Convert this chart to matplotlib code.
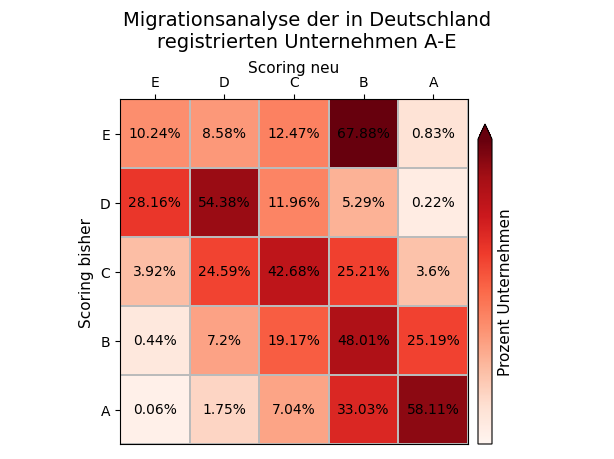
import matplotlib
matplotlib.use("Agg")
import matplotlib.pyplot as plt
import matplotlib.colors as mcolors
import numpy as np

ratings = ["E", "D", "C", "B", "A"]
# rows: Scoring bisher (E..A from top), columns: Scoring neu (E..A)
werte = np.array([
    [10.24, 8.58, 12.47, 67.88, 0.83],
    [28.16, 54.38, 11.96, 5.29, 0.22],
    [3.92, 24.59, 42.68, 25.21, 3.6],
    [0.44, 7.2, 19.17, 48.01, 25.19],
    [0.06, 1.75, 7.04, 33.03, 58.11],
])

fig = plt.figure(figsize=(6.14, 4.6), dpi=100)
ax = fig.add_axes([120 / 614, 15 / 460, 348 / 614, 345 / 460])
cax = fig.add_axes([478 / 614, 15 / 460, 14 / 614, 320 / 460])

norm = mcolors.PowerNorm(gamma=0.5, vmin=0, vmax=werte.max())
mesh = ax.pcolormesh(werte, cmap="Reds", norm=norm, edgecolors="#bbbbbb", linewidth=0.3)
ax.set_xlim(0, 5)
ax.set_ylim(5, 0)

for i in range(5):
    for j in range(5):
        ax.text(j + 0.5, i + 0.5, f"{werte[i, j]:g}%", ha="center", va="center", fontsize=10)

ax.xaxis.tick_top()
ax.xaxis.set_label_position("top")
ax.set_xticks(np.arange(5) + 0.5)
ax.set_xticklabels(ratings)
ax.set_yticks(np.arange(5) + 0.5)
ax.set_yticklabels(ratings)
ax.set_xlabel("Scoring neu", fontsize=11, labelpad=2)
ax.set_ylabel("Scoring bisher", fontsize=11)

cbar = fig.colorbar(mesh, cax=cax, extend="max")
cbar.set_ticks([])
cbar.set_label("Prozent Unternehmen", fontsize=11)
cbar.outline.set_linewidth(0.8)

fig.suptitle("Migrationsanalyse der in Deutschland\nregistrierten Unternehmen A-E", fontsize=14, y=0.975)
fig.savefig("out.png", dpi=100)
